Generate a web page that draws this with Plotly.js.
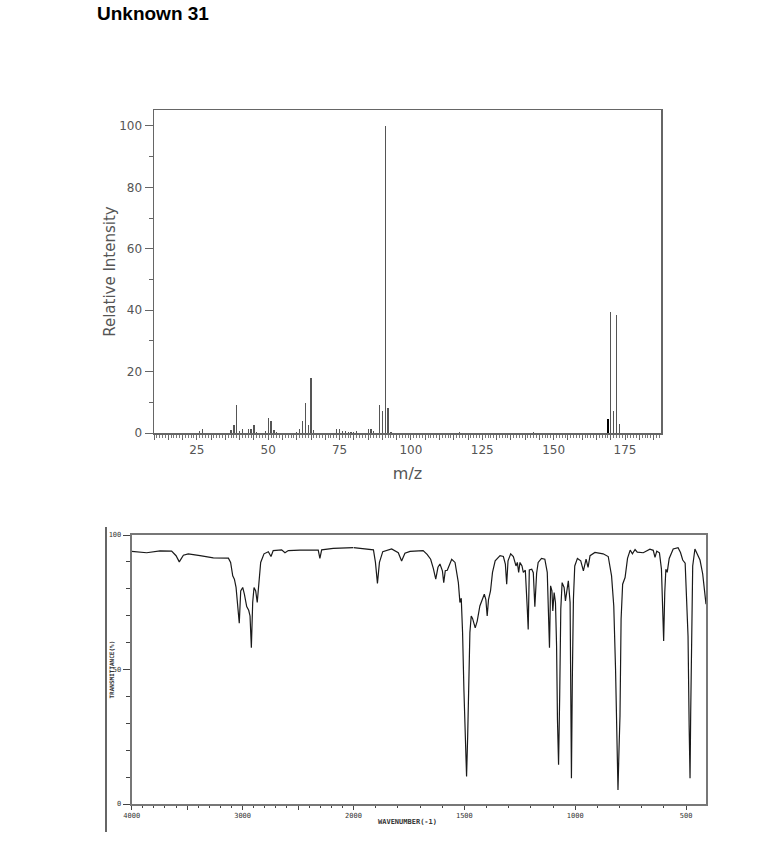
<!DOCTYPE html>
<html>
<head>
<meta charset="utf-8">
<script src="https://cdn.plot.ly/plotly-3.0.1.min.js"></script>
<style>html,body{margin:0;padding:0;background:#fff;}#chart{width:766px;height:846px;}</style>
</head>
<body>
<div id="chart"></div>
<script>
// ---- Mass spectrum (m/z vs relative intensity) ----
const msMz = [26, 27, 37, 38, 39, 40, 41, 43, 44, 45, 46, 49, 50, 51, 52, 53,
  60, 61, 62, 63, 64, 65, 66, 74, 75, 76, 77, 78, 79, 80, 81, 85, 86, 87,
  89, 90, 91, 92, 93, 117, 143, 169, 170, 171, 172, 173];
const msIntensity = [0.6, 1.3, 1.1, 2.5, 9.0, 0.8, 1.2, 1.2, 1.2, 2.8, 0.5, 0.6, 4.9, 3.8, 0.9, 0.3,
  0.5, 1.2, 3.9, 9.7, 2.6, 17.9, 1.1, 1.3, 1.3, 0.6, 0.8, 0.4, 0.5, 0.5, 0.6, 1.2, 1.4, 0.8,
  9.0, 7.3, 100, 8.2, 0.4, 0.5, 0.4, 4.5, 39.4, 7.1, 38.5, 3.0];
const msXTicks = [25, 50, 75, 100, 125, 150, 175];
const msYTicks = [0, 20, 40, 60, 80, 100];

// ---- IR spectrum (wavenumber vs transmittance %) ----
const irWavenumber = [4000, 3865, 3745, 3640, 3600, 3571, 3534, 3490, 3384, 3264, 3128, 3108, 3089, 3074,
  3059, 3045, 3030, 3017, 2999, 2984, 2963, 2945, 2933, 2921, 2909, 2897, 2882, 2868, 2855, 2837,
  2807, 2768, 2744, 2724, 2648, 2618, 2588, 2483, 2318, 2303, 2287, 2183, 2000,
  1956, 1910, 1901, 1892, 1883, 1868, 1828, 1798, 1783, 1768, 1745, 1686, 1668, 1652, 1640, 1629,
  1619, 1610, 1599, 1593, 1586, 1577, 1557, 1542, 1527, 1520, 1514, 1508, 1502, 1496, 1490, 1485,
  1481, 1475, 1469, 1463, 1451, 1442, 1430, 1418, 1410, 1403, 1397, 1391, 1382, 1373, 1361, 1339,
  1324, 1315, 1309, 1303, 1291, 1279, 1267, 1261, 1255, 1249, 1240, 1234, 1225, 1216, 1212, 1207,
  1196, 1189, 1182, 1174, 1167, 1152, 1137, 1126, 1120, 1116, 1111, 1105, 1101, 1095, 1089, 1084,
  1080, 1075, 1070, 1065, 1059, 1050, 1044, 1038, 1031, 1023, 1019, 1017, 1013, 1008, 1002, 990,
  975, 963, 951, 942, 933, 911, 874, 851, 836, 826, 818, 812, 807, 802, 798, 793, 786, 775, 764,
  752, 742, 730, 720, 693, 663, 648, 640, 632, 620, 611, 605, 601, 596, 591, 585, 576, 558, 536,
  525, 515, 504, 497, 491, 486, 482, 479, 474, 470, 460, 452, 437, 425, 410];
const irTransmittance = [93.9, 93.4, 94.1, 94.0, 92.3, 90.0, 92.5, 93.0, 92.3, 91.5, 91.4, 89.8, 84.8, 83.6,
  80.5, 74.9, 67.2, 79.2, 80.5, 78.0, 73.4, 72.0, 69.9, 58.1, 74.9, 80.5, 79.2, 74.9, 81.0, 89.8,
  93.0, 93.8, 92.0, 94.2, 94.5, 93.4, 94.2, 94.4, 94.4, 91.3, 94.5, 95.0, 95.3,
  94.8, 94.5, 89.8, 82.0, 89.8, 93.8, 94.8, 93.4, 90.3, 93.2, 93.9, 94.2, 92.8, 91.0, 87.6, 83.6,
  88.0, 89.2, 86.7, 82.3, 86.7, 86.9, 91.0, 89.8, 82.3, 74.9, 76.5, 63.7, 42.5, 25.1, 10.2, 25.1,
  41.3, 63.7, 69.9, 69.0, 65.5, 68.0, 73.6, 76.7, 78.0, 76.0, 69.9, 76.0, 79.2, 86.1, 90.4, 92.3,
  92.0, 89.2, 81.7, 90.4, 93.0, 92.0, 88.5, 89.8, 86.1, 89.8, 88.5, 86.1, 86.9, 72.4, 64.9, 87.0,
  87.3, 86.0, 73.3, 85.8, 89.8, 91.3, 91.0, 86.1, 69.9, 58.1, 81.1, 79.2, 71.8, 78.6, 74.9, 58.7,
  31.3, 14.6, 40.0, 72.4, 82.3, 80.5, 75.5, 79.8, 83.0, 74.9, 36.3, 9.6, 46.0, 76.1, 88.5, 91.3,
  90.4, 86.7, 91.0, 88.0, 92.3, 93.5, 93.0, 92.0, 84.8, 73.6, 50.0, 16.4, 5.2, 21.4, 32.6, 68.7, 81.7, 84.2, 91.3,
  94.4, 93.0, 94.6, 93.6, 93.4, 94.7, 94.3, 91.7, 94.0, 93.4, 87.3, 73.6, 60.6, 78.6, 87.3, 86.1, 91.3, 94.8, 95.3,
  93.5, 90.7, 89.5, 77.4, 62.4, 28.8, 9.6, 34.0, 76.1, 88.5, 94.8, 93.5, 90.7, 85.6, 74.3];
const irTickLeft = [4000, 3500, 3000, 2500];
const irTickLeftText = ['4000', '', '3000', ''];
const irTickRight = [2000, 1500, 1000, 500];
const irYTicks = [0, 50, 100];

// split IR at the 2000 cm-1 scale change
const irHighX = [], irHighY = [], irLowX = [], irLowY = [];
irWavenumber.forEach((w, i) => {
  if (w >= 2000) { irHighX.push(w); irHighY.push(irTransmittance[i]); }
  if (w <= 2000) { irLowX.push(w); irLowY.push(irTransmittance[i]); }
});

const W = 766, H = 846;
const px = v => v / W;
const py = v => 1 - v / H;

const msColors = msMz.map(m => m === 169 ? '#000000' : '#555555');

const traces = [
  { type: 'bar', x: msMz, y: msIntensity, width: 0.42, xaxis: 'x', yaxis: 'y',
    marker: { color: msColors, line: { width: 0 } }, hoverinfo: 'x+y' },
  { type: 'scatter', mode: 'lines', x: irHighX, y: irHighY, xaxis: 'x2', yaxis: 'y2',
    line: { color: '#1a1a1a', width: 1.2 } },
  { type: 'scatter', mode: 'lines', x: irLowX, y: irLowY, xaxis: 'x3', yaxis: 'y3',
    line: { color: '#1a1a1a', width: 1.2 } }
];

const msTickFont = { family: 'DejaVu Sans, Verdana, sans-serif', size: 12, color: '#555' };
const irTickFont = { family: 'DejaVu Sans Mono, monospace', size: 7, color: '#333' };

const msXTickVals = [], msXTickText = [];
for (let v = 10; v <= 185; v += 5) { msXTickVals.push(v); msXTickText.push(msXTicks.includes(v) ? String(v) : ''); }

const layout = {
  width: W, height: H,
  margin: { l: 0, r: 0, t: 0, b: 0 },
  paper_bgcolor: '#ffffff', plot_bgcolor: '#ffffff',
  showlegend: false,
  bargap: 0,
  title: { text: '<b>Unknown 31</b>', x: px(97), xanchor: 'left', y: py(13), yanchor: 'middle',
    font: { family: 'Liberation Sans, Arial, sans-serif', size: 19, color: '#000' } },
  xaxis: {
    domain: [px(154), px(661)], range: [10, 187.6], anchor: 'y',
    showline: true, mirror: true, linecolor: '#666', linewidth: 1.5,
    showgrid: false, zeroline: false,
    tickmode: 'array', tickvals: msXTickVals, ticktext: msXTickText,
    ticks: 'outside', ticklen: 5, tickcolor: '#666', tickwidth: 1,
    minor: { tickmode: 'linear', tick0: 0, dtick: 1, ticks: 'outside', ticklen: 3, tickcolor: '#777' },
    tickfont: msTickFont,
    title: { text: 'm/z', standoff: 12, font: { family: 'DejaVu Sans, Verdana, sans-serif', size: 16, color: '#555' } }
  },
  yaxis: {
    domain: [py(433.1), py(110)], range: [0, 105.2], anchor: 'x',
    showline: true, mirror: true, linecolor: '#666', linewidth: 1.5,
    showgrid: false, zeroline: false,
    tickmode: 'array', tickvals: msYTicks,
    ticks: 'outside', ticklen: 8, tickcolor: '#666', tickwidth: 1,
    minor: { tickmode: 'linear', tick0: 0, dtick: 10, ticks: 'outside', ticklen: 4, tickcolor: '#666' },
    tickfont: msTickFont,
    title: { text: 'Relative Intensity', standoff: 0, font: { family: 'DejaVu Sans, Verdana, sans-serif', size: 15, color: '#555' } }
  },
  xaxis2: {
    domain: [px(131.7), px(353.5)], range: [4000, 2000], anchor: 'y2',
    showline: true, mirror: true, linecolor: '#777', linewidth: 2,
    showgrid: false, zeroline: false,
    tickmode: 'array', tickvals: irTickLeft, ticktext: irTickLeftText,
    ticks: 'outside', ticklen: 4, tickcolor: '#444', tickwidth: 1,
    minor: { tickmode: 'linear', tick0: 0, dtick: 100, ticks: 'outside', ticklen: 2, tickcolor: '#444' },
    tickfont: irTickFont
  },
  yaxis2: {
    domain: [py(804), py(535)], range: [0, 100], anchor: 'x2',
    showline: true, mirror: false, linecolor: '#777', linewidth: 2,
    showgrid: false, zeroline: false,
    tickmode: 'array', tickvals: irYTicks,
    ticks: 'outside', ticklen: 7, tickcolor: '#444', tickwidth: 1,
    minor: { tickmode: 'linear', tick0: 0, dtick: 10, ticks: 'outside', ticklen: 4, tickcolor: '#444' },
    tickfont: irTickFont
  },
  xaxis3: {
    domain: [px(353.5), px(706)], range: [2000, 410], anchor: 'y3',
    showline: true, mirror: true, linecolor: '#777', linewidth: 2,
    showgrid: false, zeroline: false,
    tickmode: 'array', tickvals: irTickRight,
    ticks: 'outside', ticklen: 4, tickcolor: '#444', tickwidth: 1,
    minor: { tickmode: 'linear', tick0: 0, dtick: 100, ticks: 'outside', ticklen: 2, tickcolor: '#444' },
    tickfont: irTickFont
  },
  yaxis3: {
    domain: [py(804), py(535)], range: [0, 100], anchor: 'x3', side: 'right',
    showline: true, mirror: false, linecolor: '#777', linewidth: 2,
    showgrid: false, zeroline: false, showticklabels: false, ticks: ''
  },
  annotations: [
    { text: '<b>TRANSMITTANCE(%)</b>', xref: 'paper', yref: 'paper', x: px(110.5), y: py(670),
      textangle: -90, showarrow: false, xanchor: 'center', yanchor: 'middle',
      font: { family: 'DejaVu Sans Mono, monospace', size: 6, color: '#333' } },
    { text: '<b>WAVENUMBER(-1)</b>', xref: 'paper', yref: 'paper', x: px(407), y: py(822),
      showarrow: false, xanchor: 'center', yanchor: 'middle',
      font: { family: 'DejaVu Sans Mono, monospace', size: 7, color: '#333' } }
  ],
  shapes: [
    { type: 'line', xref: 'paper', yref: 'paper', x0: px(106), x1: px(106), y0: py(527), y1: py(832),
      line: { color: '#666', width: 2 } }
  ]
};

Plotly.newPlot('chart', traces, layout, { staticPlot: true, displayModeBar: false });
</script>
</body>
</html>
